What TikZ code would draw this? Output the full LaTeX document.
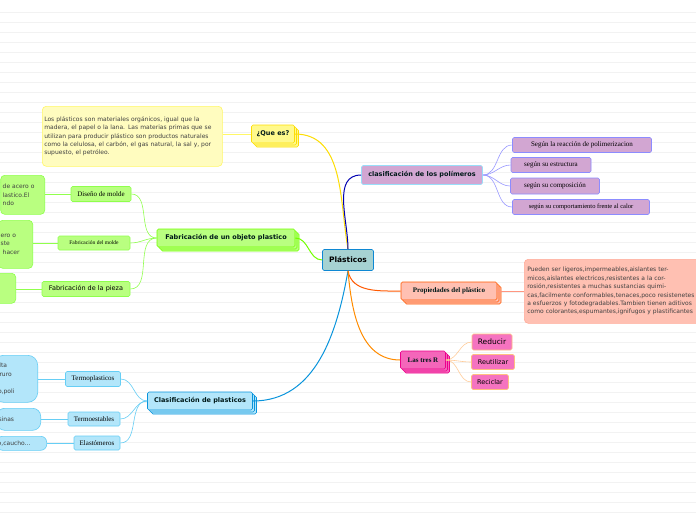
\documentclass[tikz,border=0pt]{standalone}
\usepackage{fontspec}
\setmainfont{DejaVu Sans}
\newfontfamily\serifx{Liberation Serif}
\usetikzlibrary{shadows}
\begin{document}
\begin{tikzpicture}[x=1pt,y=-1pt,
 box/.style={draw,rounded corners=1.5pt,line width=0.6pt,inner sep=2pt,font=\fontsize{6.5}{8}\selectfont},
 note/.style={box,rounded corners=4pt,align=left,anchor=north west,font=\fontsize{6}{8.4}\selectfont,text=black!75},
 sv/.style={font=\serifx\fontsize{7}{8}\selectfont},
 con/.style={line width=0.6pt}]
\useasboundingbox (0,0) rectangle (696,520);
\fill[white] (0,0) rectangle (696,520);
\foreach \i in {1,...,51} \draw[black!5,line width=0.4pt] (0,\i*10+2) -- (696,\i*10+2);
% center
\node[box,fill=teal!35,draw=cyan!70!blue,font=\bfseries\fontsize{7.5}{9}\selectfont,minimum width=51pt,minimum height=21pt] (c) at (348,260) {Plásticos};
% branches
\node[box,fill=yellow!45,draw=yellow!80!orange,font=\bfseries\fontsize{6.5}{8}\selectfont,text=black!80!teal,minimum width=43pt,minimum height=18pt,double copy shadow={shadow xshift=2pt,shadow yshift=-2pt,draw=yellow!80!orange,fill=yellow!45}] (q) at (273,134) {¿Que es?};
\node[note,fill=yellow!25,draw=yellow!60,text width=176pt,minimum height=60pt] (qt) at (42,106) {Los plásticos son materiales orgánicos, igual que la madera, el papel o la lana. Las materias primas que se utilizan para producir plástico son productos naturales como la celulosa, el carbón, el gas natural, la sal y, por supuesto, el petróleo.};
\node[box,fill=lime!60!green!50,draw=lime!60!green,font=\bfseries\fontsize{6.5}{8}\selectfont,text=black!80!teal,minimum width=138pt,minimum height=18pt,double copy shadow={shadow xshift=2pt,shadow yshift=-2pt,draw=lime!60!green,fill=lime!60!green!50}] (f) at (226,238) {Fabricación de un objeto plastico};
\node[box,fill=lime!60!green!50,draw=lime!50!green!70,sv,minimum width=60pt,minimum height=15pt] (f1) at (101,194) {Diseño de molde};
\node[box,fill=lime!60!green!50,draw=lime!50!green!70,font=\serifx\fontsize{5.5}{7}\selectfont,minimum width=72pt,minimum height=14pt] (f2) at (94,243) {Fabricación del molde};
\node[box,fill=lime!60!green!50,draw=lime!50!green!70,minimum width=88pt,minimum height=15pt] (f3) at (86,289) {Fabricación de la pieza};
\node[note,fill=lime!60!green!50,draw=lime!50!green!70,text width=40pt,minimum height=39pt,anchor=north east] (n1) at (45,175) {de acero o\\lastico.El\\ndo};
\node[note,fill=lime!60!green!50,draw=lime!50!green!70,text width=30pt,minimum height=48pt,anchor=north east] (n2) at (33,220) {ero o\\ste\\\hspace*{2pt}hacer};
\node[note,fill=lime!60!green!50,draw=lime!50!green!70,minimum width=20pt,minimum height=30pt,anchor=north east] (n3) at (16,273) {};
\node[box,fill=cyan!30,draw=cyan!80!blue,font=\bfseries\fontsize{6.5}{8}\selectfont,text=black!80!teal,minimum width=105pt,minimum height=18pt,double copy shadow={shadow xshift=2pt,shadow yshift=-2pt,draw=cyan!80!blue,fill=cyan!30}] (k) at (200,401) {Clasificación de plasticos};
\node[box,fill=cyan!30,draw=cyan!60,sv,minimum width=55pt,minimum height=15pt] (k1) at (93,379) {Termoplasticos};
\node[box,fill=cyan!30,draw=cyan!60,sv,minimum width=52pt,minimum height=14pt] (k2) at (94,419) {Termoestables};
\node[box,fill=cyan!30,draw=cyan!60,sv,minimum width=46pt,minimum height=14pt] (k3) at (97,443) {Elastómeros};
\node[note,fill=cyan!30,draw=cyan!60,rounded corners=10pt,text width=40pt,minimum height=47pt,anchor=north east] (m1) at (38,355) {alta\\ururo\\\strut\\to,poli};
\node[note,fill=cyan!30,draw=cyan!60,rounded corners=8pt,text width=40pt,minimum height=22pt,anchor=north east] (m2) at (41,408) {sinas};
\node[note,fill=cyan!30,draw=cyan!60,rounded corners=6pt,text width=48pt,minimum height=14pt,inner sep=1pt,anchor=north east] (m3) at (47,436) {o,caucho...};
\node[box,fill=violet!35,draw=cyan!40,font=\bfseries\fontsize{6.5}{8}\selectfont,text=black!80!teal,minimum width=121pt,minimum height=19pt] (p) at (422,175) {clasificación de los polímeros};
\node[box,fill=violet!35,draw=blue!45,sv,minimum width=139pt,minimum height=15pt] (p1) at (582,145) {Según la reacción de polimerizacion};
\node[box,fill=violet!35,draw=blue!45,sv,minimum width=80pt,minimum height=15pt] (p2) at (551,165) {según su estructura};
\node[box,fill=violet!35,draw=blue!45,sv,minimum width=89pt,minimum height=16pt] (p3) at (555,186) {según su composición};
\node[box,fill=violet!35,draw=blue!45,font=\serifx\fontsize{6.5}{8}\selectfont,minimum width=137pt,minimum height=15pt] (p4) at (581,207) {según su comportamiento frente al calor};
\node[box,fill=orange!35!red!30,draw=orange!70!red,font=\serifx\bfseries\fontsize{7}{8}\selectfont,text=black!80!teal,minimum width=96pt,minimum height=18pt,double copy shadow={shadow xshift=2pt,shadow yshift=-2pt,draw=orange!70!red,fill=orange!35!red!30}] (r) at (449,291) {Propiedades del plástico};
\node[note,fill=orange!35!red!30,draw=orange!35!red!40,text width=172pt,minimum height=64pt,inner sep=3pt] (rt) at (524,259) {Pueden ser ligeros,impermeables,aislantes termicos,aislantes electricos,resistentes a la corrosión,resistentes a muchas sustancias quimicas,facilmente conformables,tenaces,poco resistenetes a esfuerzos y fotodegradables.Tambien tienen aditivos como colorantes,espumantes,ignifugos y plastificantes};
\node[box,fill=magenta!60,draw=magenta,font=\serifx\bfseries\fontsize{7}{8}\selectfont,text=black!80!teal,minimum width=45pt,minimum height=18pt,double copy shadow={shadow xshift=2pt,shadow yshift=-2pt,draw=magenta,fill=magenta!60}] (t) at (423,360) {Las tres R};
\node[box,fill=magenta!55,draw=orange!50,font=\fontsize{7.5}{9}\selectfont,minimum width=40pt,minimum height=16pt] (t1) at (492,342) {Reducir};
\node[box,fill=magenta!55,draw=orange!50,minimum width=43pt,minimum height=15pt] (t2) at (493,362) {Reutilizar};
\node[box,fill=magenta!55,draw=orange!50,minimum width=37pt,minimum height=15pt] (t3) at (490,382) {Reciclar};
% connectors
\draw[con,yellow!80!orange,line width=1pt] (c.north) to[out=100,in=0] (q.east);
\draw[con,lime!60!green,line width=1pt] (c.west) to[out=180,in=0] (f.east);
\draw[con,cyan!80!blue,line width=1pt] (c.south) to[out=260,in=0] (k.east);
\draw[con,blue!70!black,line width=1pt] (c.north) to[out=90,in=180] (p.west);
\draw[con,orange!70!red,line width=1pt] (c.south) to[out=-80,in=180] (r.west);
\draw[con,orange!90!yellow,line width=1pt] (c.south) to[out=-85,in=180] (t.west);
\draw[con,yellow!60] (q.west) -- (qt.east|-q.west);
\foreach \n in {f1,f2,f3} \draw[con,lime!50!green!70] (f.west) to[out=180,in=0] (\n.east);
\draw[con,lime!50!green!70] (f1.west) -- (n1.east|-f1.west);
\draw[con,lime!50!green!70] (f2.west) -- (n2.east|-f2.west);
\draw[con,lime!50!green!70] (f3.west) -- (n3.east|-f3.west);
\foreach \n in {k1,k2,k3} \draw[con,cyan!60] (k.west) to[out=180,in=0] (\n.east);
\draw[con,cyan!60] (k1.west) -- (m1.east|-k1.west);
\draw[con,cyan!60] (k2.west) -- (m2.east|-k2.west);
\draw[con,cyan!60] (k3.west) -- (m3.east|-k3.west);
\foreach \n in {p1,p2,p3,p4} \draw[con,blue!40] (p.east) to[out=0,in=180] (\n.west);
\draw[con,orange!35!red!50] (r.east) -- (rt.west|-r.east);
\foreach \n in {t1,t2,t3} \draw[con,orange!40] (t.east) to[out=0,in=180] (\n.west);
\end{tikzpicture}
\end{document}
